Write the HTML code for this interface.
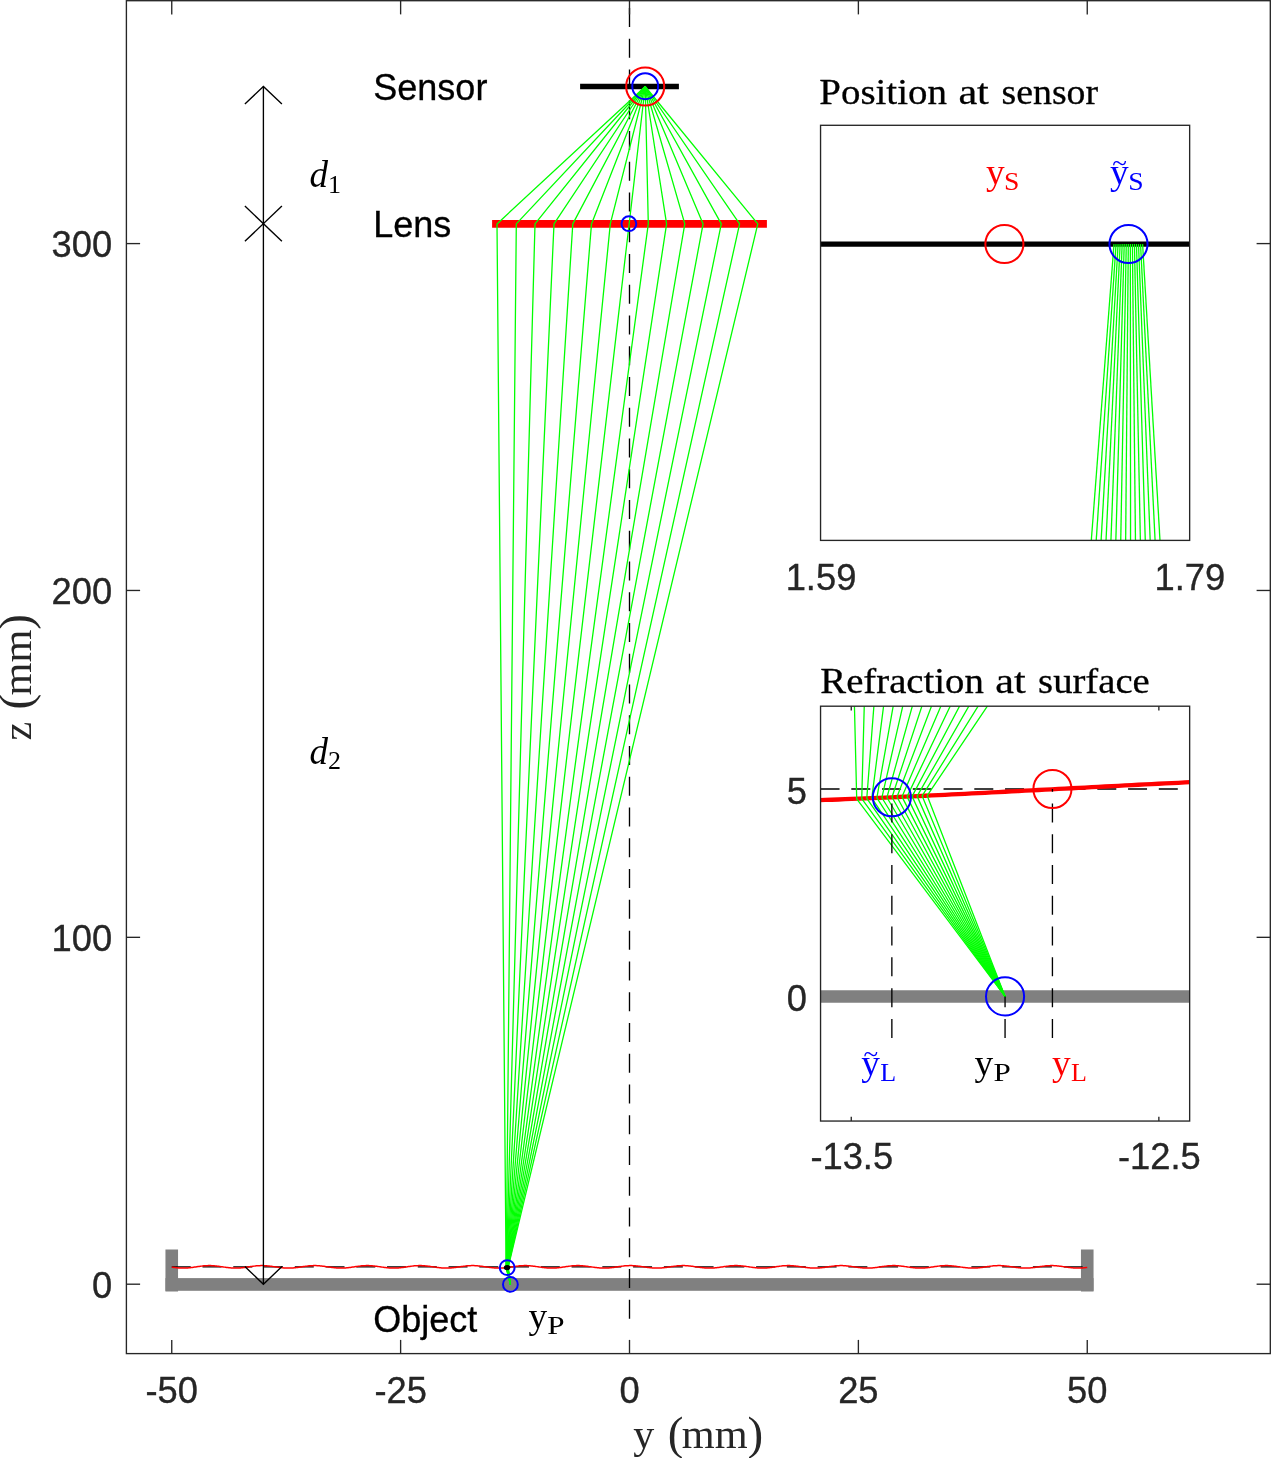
<!DOCTYPE html>
<html lang="en"><head><meta charset="utf-8"><title>Ray tracing through a refracting surface</title>
<style>html,body{margin:0;padding:0;background:#fff}svg{display:block}</style></head>
<body>
<svg width="1271" height="1458" viewBox="0 0 1271 1458">
<rect x="0" y="0" width="1271" height="1458" fill="#ffffff"/>
<defs>
<clipPath id="cm"><rect x="126.4" y="0.7" width="1143.9" height="1352.9"/></clipPath>
<clipPath id="c1"><rect x="820.55" y="125.3" width="369.1" height="415.1"/></clipPath>
<clipPath id="c2"><rect x="820.55" y="706.2" width="369.1" height="414.85"/></clipPath>
</defs>
<g clip-path="url(#cm)">
<rect x="165.45" y="1278.1" width="928.1" height="12.7" fill="#808080"/>
<rect x="165.45" y="1249.5" width="12.6" height="42" fill="#808080"/>
<rect x="1080.95" y="1249.5" width="12.6" height="42" fill="#808080"/>
<line x1="171.75" y1="1266.86" x2="1087.25" y2="1266.86" stroke="#000" stroke-width="1.35" stroke-dasharray="19 11.755"/>
<polyline points="171.75,1267.13 172.89,1267.3 174.04,1267.45 175.18,1267.6 176.33,1267.73 177.47,1267.84 178.62,1267.94 179.76,1268.01 180.91,1268.07 182.05,1268.1 183.19,1268.11 184.34,1268.09 185.48,1268.05 186.63,1267.99 187.77,1267.91 188.92,1267.81 190.06,1267.69 191.2,1267.56 192.35,1267.41 193.49,1267.25 194.64,1267.09 195.78,1266.92 196.93,1266.75 198.07,1266.58 199.22,1266.42 200.36,1266.26 201.5,1266.12 202.65,1265.99 203.79,1265.87 204.94,1265.78 206.08,1265.7 207.23,1265.65 208.37,1265.62 209.51,1265.61 210.66,1265.62 211.8,1265.66 212.95,1265.72 214.09,1265.8 215.24,1265.9 216.38,1266.02 217.53,1266.16 218.67,1266.3 219.81,1266.46 220.96,1266.63 222.1,1266.8 223.25,1266.97 224.39,1267.13 225.54,1267.3 226.68,1267.45 227.82,1267.6 228.97,1267.73 230.11,1267.84 231.26,1267.94 232.4,1268.01 233.55,1268.07 234.69,1268.1 235.84,1268.11 236.98,1268.09 238.12,1268.05 239.27,1267.99 240.41,1267.91 241.56,1267.81 242.7,1267.69 243.85,1267.56 244.99,1267.41 246.13,1267.25 247.28,1267.09 248.42,1266.92 249.57,1266.75 250.71,1266.58 251.86,1266.42 253,1266.26 254.15,1266.12 255.29,1265.99 256.43,1265.87 257.58,1265.78 258.72,1265.7 259.87,1265.65 261.01,1265.62 262.16,1265.61 263.3,1265.62 264.44,1265.66 265.59,1265.72 266.73,1265.8 267.88,1265.9 269.02,1266.02 270.17,1266.16 271.31,1266.3 272.46,1266.46 273.6,1266.63 274.74,1266.8 275.89,1266.97 277.03,1267.13 278.18,1267.3 279.32,1267.45 280.47,1267.6 281.61,1267.73 282.75,1267.84 283.9,1267.94 285.04,1268.01 286.19,1268.07 287.33,1268.1 288.48,1268.11 289.62,1268.09 290.77,1268.05 291.91,1267.99 293.05,1267.91 294.2,1267.81 295.34,1267.69 296.49,1267.56 297.63,1267.41 298.78,1267.25 299.92,1267.09 301.06,1266.92 302.21,1266.75 303.35,1266.58 304.5,1266.42 305.64,1266.26 306.79,1266.12 307.93,1265.99 309.08,1265.87 310.22,1265.78 311.36,1265.7 312.51,1265.65 313.65,1265.62 314.8,1265.61 315.94,1265.62 317.09,1265.66 318.23,1265.72 319.37,1265.8 320.52,1265.9 321.66,1266.02 322.81,1266.16 323.95,1266.3 325.1,1266.46 326.24,1266.63 327.39,1266.8 328.53,1266.97 329.67,1267.13 330.82,1267.3 331.96,1267.45 333.11,1267.6 334.25,1267.73 335.4,1267.84 336.54,1267.94 337.68,1268.01 338.83,1268.07 339.97,1268.1 341.12,1268.11 342.26,1268.09 343.41,1268.05 344.55,1267.99 345.69,1267.91 346.84,1267.81 347.98,1267.69 349.13,1267.56 350.27,1267.41 351.42,1267.25 352.56,1267.09 353.71,1266.92 354.85,1266.75 355.99,1266.58 357.14,1266.42 358.28,1266.26 359.43,1266.12 360.57,1265.99 361.72,1265.87 362.86,1265.78 364,1265.7 365.15,1265.65 366.29,1265.62 367.44,1265.61 368.58,1265.62 369.73,1265.66 370.87,1265.72 372.02,1265.8 373.16,1265.9 374.3,1266.02 375.45,1266.16 376.59,1266.3 377.74,1266.46 378.88,1266.63 380.03,1266.8 381.17,1266.97 382.32,1267.13 383.46,1267.3 384.6,1267.45 385.75,1267.6 386.89,1267.73 388.04,1267.84 389.18,1267.94 390.33,1268.01 391.47,1268.07 392.61,1268.1 393.76,1268.11 394.9,1268.09 396.05,1268.05 397.19,1267.99 398.34,1267.91 399.48,1267.81 400.62,1267.69 401.77,1267.56 402.91,1267.41 404.06,1267.25 405.2,1267.09 406.35,1266.92 407.49,1266.75 408.64,1266.58 409.78,1266.42 410.92,1266.26 412.07,1266.12 413.21,1265.99 414.36,1265.87 415.5,1265.78 416.65,1265.7 417.79,1265.65 418.94,1265.62 420.08,1265.61 421.22,1265.62 422.37,1265.66 423.51,1265.72 424.66,1265.8 425.8,1265.9 426.95,1266.02 428.09,1266.16 429.23,1266.3 430.38,1266.46 431.52,1266.63 432.67,1266.8 433.81,1266.97 434.96,1267.13 436.1,1267.3 437.25,1267.45 438.39,1267.6 439.53,1267.73 440.68,1267.84 441.82,1267.94 442.97,1268.01 444.11,1268.07 445.26,1268.1 446.4,1268.11 447.54,1268.09 448.69,1268.05 449.83,1267.99 450.98,1267.91 452.12,1267.81 453.27,1267.69 454.41,1267.56 455.56,1267.41 456.7,1267.25 457.84,1267.09 458.99,1266.92 460.13,1266.75 461.28,1266.58 462.42,1266.42 463.57,1266.26 464.71,1266.12 465.85,1265.99 467,1265.87 468.14,1265.78 469.29,1265.7 470.43,1265.65 471.58,1265.62 472.72,1265.61 473.87,1265.62 475.01,1265.66 476.15,1265.72 477.3,1265.8 478.44,1265.9 479.59,1266.02 480.73,1266.16 481.88,1266.3 483.02,1266.46 484.16,1266.63 485.31,1266.8 486.45,1266.97 487.6,1267.13 488.74,1267.3 489.89,1267.45 491.03,1267.6 492.18,1267.73 493.32,1267.84 494.46,1267.94 495.61,1268.01 496.75,1268.07 497.9,1268.1 499.04,1268.11 500.19,1268.09 501.33,1268.05 502.47,1267.99 503.62,1267.91 504.76,1267.81 505.91,1267.69 507.05,1267.56 508.2,1267.41 509.34,1267.25 510.49,1267.09 511.63,1266.92 512.77,1266.75 513.92,1266.58 515.06,1266.42 516.21,1266.26 517.35,1266.12 518.5,1265.99 519.64,1265.87 520.78,1265.78 521.93,1265.7 523.07,1265.65 524.22,1265.62 525.36,1265.61 526.51,1265.62 527.65,1265.66 528.79,1265.72 529.94,1265.8 531.08,1265.9 532.23,1266.02 533.37,1266.16 534.52,1266.3 535.66,1266.46 536.81,1266.63 537.95,1266.8 539.09,1266.97 540.24,1267.13 541.38,1267.3 542.53,1267.45 543.67,1267.6 544.82,1267.73 545.96,1267.84 547.11,1267.94 548.25,1268.01 549.39,1268.07 550.54,1268.1 551.68,1268.11 552.83,1268.09 553.97,1268.05 555.12,1267.99 556.26,1267.91 557.4,1267.81 558.55,1267.69 559.69,1267.56 560.84,1267.41 561.98,1267.25 563.13,1267.09 564.27,1266.92 565.41,1266.75 566.56,1266.58 567.7,1266.42 568.85,1266.26 569.99,1266.12 571.14,1265.99 572.28,1265.87 573.43,1265.78 574.57,1265.7 575.71,1265.65 576.86,1265.62 578,1265.61 579.15,1265.62 580.29,1265.66 581.44,1265.72 582.58,1265.8 583.73,1265.9 584.87,1266.02 586.01,1266.16 587.16,1266.3 588.3,1266.46 589.45,1266.63 590.59,1266.8 591.74,1266.97 592.88,1267.13 594.02,1267.3 595.17,1267.45 596.31,1267.6 597.46,1267.73 598.6,1267.84 599.75,1267.94 600.89,1268.01 602.03,1268.07 603.18,1268.1 604.32,1268.11 605.47,1268.09 606.61,1268.05 607.76,1267.99 608.9,1267.91 610.05,1267.81 611.19,1267.69 612.33,1267.56 613.48,1267.41 614.62,1267.25 615.77,1267.09 616.91,1266.92 618.06,1266.75 619.2,1266.58 620.35,1266.42 621.49,1266.26 622.63,1266.12 623.78,1265.99 624.92,1265.87 626.07,1265.78 627.21,1265.7 628.36,1265.65 629.5,1265.62 630.64,1265.61 631.79,1265.62 632.93,1265.66 634.08,1265.72 635.22,1265.8 636.37,1265.9 637.51,1266.02 638.65,1266.16 639.8,1266.3 640.94,1266.46 642.09,1266.63 643.23,1266.8 644.38,1266.97 645.52,1267.13 646.67,1267.3 647.81,1267.45 648.95,1267.6 650.1,1267.73 651.24,1267.84 652.39,1267.94 653.53,1268.01 654.68,1268.07 655.82,1268.1 656.97,1268.11 658.11,1268.09 659.25,1268.05 660.4,1267.99 661.54,1267.91 662.69,1267.81 663.83,1267.69 664.98,1267.56 666.12,1267.41 667.26,1267.25 668.41,1267.09 669.55,1266.92 670.7,1266.75 671.84,1266.58 672.99,1266.42 674.13,1266.26 675.27,1266.12 676.42,1265.99 677.56,1265.87 678.71,1265.78 679.85,1265.7 681,1265.65 682.14,1265.62 683.29,1265.61 684.43,1265.62 685.57,1265.66 686.72,1265.72 687.86,1265.8 689.01,1265.9 690.15,1266.02 691.3,1266.16 692.44,1266.3 693.59,1266.46 694.73,1266.63 695.87,1266.8 697.02,1266.97 698.16,1267.13 699.31,1267.3 700.45,1267.45 701.6,1267.6 702.74,1267.73 703.88,1267.84 705.03,1267.94 706.17,1268.01 707.32,1268.07 708.46,1268.1 709.61,1268.11 710.75,1268.09 711.89,1268.05 713.04,1267.99 714.18,1267.91 715.33,1267.81 716.47,1267.69 717.62,1267.56 718.76,1267.41 719.91,1267.25 721.05,1267.09 722.19,1266.92 723.34,1266.75 724.48,1266.58 725.63,1266.42 726.77,1266.26 727.92,1266.12 729.06,1265.99 730.21,1265.87 731.35,1265.78 732.49,1265.7 733.64,1265.65 734.78,1265.62 735.93,1265.61 737.07,1265.62 738.22,1265.66 739.36,1265.72 740.5,1265.8 741.65,1265.9 742.79,1266.02 743.94,1266.16 745.08,1266.3 746.23,1266.46 747.37,1266.63 748.51,1266.8 749.66,1266.97 750.8,1267.13 751.95,1267.3 753.09,1267.45 754.24,1267.6 755.38,1267.73 756.53,1267.84 757.67,1267.94 758.81,1268.01 759.96,1268.07 761.1,1268.1 762.25,1268.11 763.39,1268.09 764.54,1268.05 765.68,1267.99 766.83,1267.91 767.97,1267.81 769.11,1267.69 770.26,1267.56 771.4,1267.41 772.55,1267.25 773.69,1267.09 774.84,1266.92 775.98,1266.75 777.12,1266.58 778.27,1266.42 779.41,1266.26 780.56,1266.12 781.7,1265.99 782.85,1265.87 783.99,1265.78 785.13,1265.7 786.28,1265.65 787.42,1265.62 788.57,1265.61 789.71,1265.62 790.86,1265.66 792,1265.72 793.15,1265.8 794.29,1265.9 795.43,1266.02 796.58,1266.16 797.72,1266.3 798.87,1266.46 800.01,1266.63 801.16,1266.8 802.3,1266.97 803.44,1267.13 804.59,1267.3 805.73,1267.45 806.88,1267.6 808.02,1267.73 809.17,1267.84 810.31,1267.94 811.46,1268.01 812.6,1268.07 813.74,1268.1 814.89,1268.11 816.03,1268.09 817.18,1268.05 818.32,1267.99 819.47,1267.91 820.61,1267.81 821.75,1267.69 822.9,1267.56 824.04,1267.41 825.19,1267.25 826.33,1267.09 827.48,1266.92 828.62,1266.75 829.77,1266.58 830.91,1266.42 832.05,1266.26 833.2,1266.12 834.34,1265.99 835.49,1265.87 836.63,1265.78 837.78,1265.7 838.92,1265.65 840.07,1265.62 841.21,1265.61 842.35,1265.62 843.5,1265.66 844.64,1265.72 845.79,1265.8 846.93,1265.9 848.08,1266.02 849.22,1266.16 850.36,1266.3 851.51,1266.46 852.65,1266.63 853.8,1266.8 854.94,1266.97 856.09,1267.13 857.23,1267.3 858.38,1267.45 859.52,1267.6 860.66,1267.73 861.81,1267.84 862.95,1267.94 864.1,1268.01 865.24,1268.07 866.39,1268.1 867.53,1268.11 868.67,1268.09 869.82,1268.05 870.96,1267.99 872.11,1267.91 873.25,1267.81 874.4,1267.69 875.54,1267.56 876.68,1267.41 877.83,1267.25 878.97,1267.09 880.12,1266.92 881.26,1266.75 882.41,1266.58 883.55,1266.42 884.7,1266.26 885.84,1266.12 886.98,1265.99 888.13,1265.87 889.27,1265.78 890.42,1265.7 891.56,1265.65 892.71,1265.62 893.85,1265.61 895,1265.62 896.14,1265.66 897.28,1265.72 898.43,1265.8 899.57,1265.9 900.72,1266.02 901.86,1266.16 903.01,1266.3 904.15,1266.46 905.29,1266.63 906.44,1266.8 907.58,1266.97 908.73,1267.13 909.87,1267.3 911.02,1267.45 912.16,1267.6 913.31,1267.73 914.45,1267.84 915.59,1267.94 916.74,1268.01 917.88,1268.07 919.03,1268.1 920.17,1268.11 921.32,1268.09 922.46,1268.05 923.6,1267.99 924.75,1267.91 925.89,1267.81 927.04,1267.69 928.18,1267.56 929.33,1267.41 930.47,1267.25 931.62,1267.09 932.76,1266.92 933.9,1266.75 935.05,1266.58 936.19,1266.42 937.34,1266.26 938.48,1266.12 939.63,1265.99 940.77,1265.87 941.91,1265.78 943.06,1265.7 944.2,1265.65 945.35,1265.62 946.49,1265.61 947.64,1265.62 948.78,1265.66 949.92,1265.72 951.07,1265.8 952.21,1265.9 953.36,1266.02 954.5,1266.16 955.65,1266.3 956.79,1266.46 957.94,1266.63 959.08,1266.8 960.22,1266.97 961.37,1267.13 962.51,1267.3 963.66,1267.45 964.8,1267.6 965.95,1267.73 967.09,1267.84 968.23,1267.94 969.38,1268.01 970.52,1268.07 971.67,1268.1 972.81,1268.11 973.96,1268.09 975.1,1268.05 976.25,1267.99 977.39,1267.91 978.53,1267.81 979.68,1267.69 980.82,1267.56 981.97,1267.41 983.11,1267.25 984.26,1267.09 985.4,1266.92 986.54,1266.75 987.69,1266.58 988.83,1266.42 989.98,1266.26 991.12,1266.12 992.27,1265.99 993.41,1265.87 994.56,1265.78 995.7,1265.7 996.84,1265.65 997.99,1265.62 999.13,1265.61 1000.28,1265.62 1001.42,1265.66 1002.57,1265.72 1003.71,1265.8 1004.86,1265.9 1006,1266.02 1007.14,1266.16 1008.29,1266.3 1009.43,1266.46 1010.58,1266.63 1011.72,1266.8 1012.87,1266.97 1014.01,1267.13 1015.15,1267.3 1016.3,1267.45 1017.44,1267.6 1018.59,1267.73 1019.73,1267.84 1020.88,1267.94 1022.02,1268.01 1023.16,1268.07 1024.31,1268.1 1025.45,1268.11 1026.6,1268.09 1027.74,1268.05 1028.89,1267.99 1030.03,1267.91 1031.18,1267.81 1032.32,1267.69 1033.46,1267.56 1034.61,1267.41 1035.75,1267.25 1036.9,1267.09 1038.04,1266.92 1039.19,1266.75 1040.33,1266.58 1041.47,1266.42 1042.62,1266.26 1043.76,1266.12 1044.91,1265.99 1046.05,1265.87 1047.2,1265.78 1048.34,1265.7 1049.49,1265.65 1050.63,1265.62 1051.77,1265.61 1052.92,1265.62 1054.06,1265.66 1055.21,1265.72 1056.35,1265.8 1057.5,1265.9 1058.64,1266.02 1059.78,1266.16 1060.93,1266.3 1062.07,1266.46 1063.22,1266.63 1064.36,1266.8 1065.51,1266.97 1066.65,1267.13 1067.8,1267.3 1068.94,1267.45 1070.08,1267.6 1071.23,1267.73 1072.37,1267.84 1073.52,1267.94 1074.66,1268.01 1075.81,1268.07 1076.95,1268.1 1078.1,1268.11 1079.24,1268.09 1080.38,1268.05 1081.53,1267.99 1082.67,1267.91 1083.82,1267.81 1084.96,1267.69 1086.11,1267.56 1087.25,1267.41" fill="none" stroke="#ff0000" stroke-width="1.5"/>
<line x1="629.5" y1="1318.69" x2="629.5" y2="-29.3" stroke="#000" stroke-width="1.35" stroke-dasharray="19 11.755"/>
<line x1="580.1" y1="86.5" x2="678.9" y2="86.5" stroke="#000" stroke-width="5.3"/>
<line x1="492.1" y1="223.9" x2="766.9" y2="223.9" stroke="#ff0000" stroke-width="7.8"/>
<polyline points="645.2,86.5 497,223.9 506.07,1267.67 510.5,1284.3" fill="none" stroke="#00ff00" stroke-width="1.3" stroke-linejoin="round"/>
<polyline points="645.2,86.5 516.3,223.9 506.22,1267.66 510.5,1284.3" fill="none" stroke="#00ff00" stroke-width="1.3" stroke-linejoin="round"/>
<polyline points="645.2,86.5 535,223.9 506.37,1267.64 510.5,1284.3" fill="none" stroke="#00ff00" stroke-width="1.3" stroke-linejoin="round"/>
<polyline points="645.2,86.5 554,223.9 506.52,1267.62 510.5,1284.3" fill="none" stroke="#00ff00" stroke-width="1.3" stroke-linejoin="round"/>
<polyline points="645.2,86.5 572.8,223.9 506.67,1267.6 510.5,1284.3" fill="none" stroke="#00ff00" stroke-width="1.3" stroke-linejoin="round"/>
<polyline points="645.2,86.5 591.5,223.9 506.82,1267.59 510.5,1284.3" fill="none" stroke="#00ff00" stroke-width="1.3" stroke-linejoin="round"/>
<polyline points="645.2,86.5 610.3,223.9 506.97,1267.57 510.5,1284.3" fill="none" stroke="#00ff00" stroke-width="1.3" stroke-linejoin="round"/>
<polyline points="645.2,86.5 629.15,223.9 507.12,1267.55 510.5,1284.3" fill="none" stroke="#00ff00" stroke-width="1.3" stroke-linejoin="round"/>
<polyline points="645.2,86.5 648.3,223.9 507.27,1267.53 510.5,1284.3" fill="none" stroke="#00ff00" stroke-width="1.3" stroke-linejoin="round"/>
<polyline points="645.2,86.5 666.6,223.9 507.42,1267.51 510.5,1284.3" fill="none" stroke="#00ff00" stroke-width="1.3" stroke-linejoin="round"/>
<polyline points="645.2,86.5 684.8,223.9 507.57,1267.49 510.5,1284.3" fill="none" stroke="#00ff00" stroke-width="1.3" stroke-linejoin="round"/>
<polyline points="645.2,86.5 703.1,223.9 507.72,1267.47 510.5,1284.3" fill="none" stroke="#00ff00" stroke-width="1.3" stroke-linejoin="round"/>
<polyline points="645.2,86.5 721.3,223.9 507.87,1267.45 510.5,1284.3" fill="none" stroke="#00ff00" stroke-width="1.3" stroke-linejoin="round"/>
<polyline points="645.2,86.5 739.6,223.9 508.02,1267.43 510.5,1284.3" fill="none" stroke="#00ff00" stroke-width="1.3" stroke-linejoin="round"/>
<polyline points="645.2,86.5 757.8,223.9 508.17,1267.41 510.5,1284.3" fill="none" stroke="#00ff00" stroke-width="1.3" stroke-linejoin="round"/>
<circle cx="645.2" cy="86.5" r="19.05" fill="none" stroke="#ff0000" stroke-width="2.0"/>
<circle cx="645.2" cy="86.2" r="12.95" fill="none" stroke="#0000ff" stroke-width="2.0"/>
<circle cx="628.9" cy="223.7" r="7.4" fill="none" stroke="#0000ff" stroke-width="2.0"/>
<ellipse cx="507.1" cy="1267.6" rx="3.3" ry="2.7" fill="#000"/>
<circle cx="507.2" cy="1267.6" r="7.4" fill="none" stroke="#0000ff" stroke-width="2.0"/>
<circle cx="510.4" cy="1284.4" r="7.4" fill="none" stroke="#0000ff" stroke-width="2.0"/>
<g stroke="#000" stroke-width="1.35" fill="none">
<line x1="263.4" y1="86.4" x2="263.4" y2="1284.2"/>
<polyline points="244.9,104.1 263.4,86.4 281.9,104.1"/>
<polyline points="244.9,1266.6 263.4,1284.2 281.9,1266.6"/>
<line x1="244.9" y1="206.1" x2="281.9" y2="241.3"/>
<line x1="244.9" y1="241.3" x2="281.9" y2="206.1"/>
</g>
</g>
<g stroke="#262626" stroke-width="1.35" fill="none">
<rect x="126.4" y="0.7" width="1143.9" height="1352.9"/>
<line x1="171.75" y1="1353.6" x2="171.75" y2="1339.9"/>
<line x1="171.75" y1="0.7" x2="171.75" y2="14.4"/>
<line x1="400.62" y1="1353.6" x2="400.62" y2="1339.9"/>
<line x1="400.62" y1="0.7" x2="400.62" y2="14.4"/>
<line x1="629.5" y1="1353.6" x2="629.5" y2="1339.9"/>
<line x1="629.5" y1="0.7" x2="629.5" y2="14.4"/>
<line x1="858.38" y1="1353.6" x2="858.38" y2="1339.9"/>
<line x1="858.38" y1="0.7" x2="858.38" y2="14.4"/>
<line x1="1087.25" y1="1353.6" x2="1087.25" y2="1339.9"/>
<line x1="1087.25" y1="0.7" x2="1087.25" y2="14.4"/>
<line x1="126.4" y1="1284.2" x2="140.1" y2="1284.2"/>
<line x1="1270.3" y1="1284.2" x2="1256.6" y2="1284.2"/>
<line x1="126.4" y1="937.33" x2="140.1" y2="937.33"/>
<line x1="1270.3" y1="937.33" x2="1256.6" y2="937.33"/>
<line x1="126.4" y1="590.46" x2="140.1" y2="590.46"/>
<line x1="1270.3" y1="590.46" x2="1256.6" y2="590.46"/>
<line x1="126.4" y1="243.59" x2="140.1" y2="243.59"/>
<line x1="1270.3" y1="243.59" x2="1256.6" y2="243.59"/>
</g>
<g font-family="'Liberation Sans', Arial, Helvetica, sans-serif" font-size="36.3" fill="#262626" stroke="#262626" stroke-width="0.35">
<text x="171.75" y="1402.8" text-anchor="middle">-50</text>
<text x="400.62" y="1402.8" text-anchor="middle">-25</text>
<text x="629.5" y="1402.8" text-anchor="middle">0</text>
<text x="858.38" y="1402.8" text-anchor="middle">25</text>
<text x="1087.25" y="1402.8" text-anchor="middle">50</text>
<text x="112.1" y="1298.1" text-anchor="end">0</text>
<text x="112.1" y="951.23" text-anchor="end">100</text>
<text x="112.1" y="604.36" text-anchor="end">200</text>
<text x="112.1" y="257.49" text-anchor="end">300</text>
</g>
<g font-family="'Liberation Serif', 'Times New Roman', Times, serif" fill="#262626" transform="translate(633.2,1448.2)"><text x="0" y="0" font-size="40.5" textLength="21" lengthAdjust="spacingAndGlyphs">y</text><text x="34.6" y="0.6" font-size="47">(</text><text x="48.6" y="0" font-size="40.5" textLength="65.8" lengthAdjust="spacingAndGlyphs">mm</text><text x="114.2" y="0.6" font-size="47">)</text></g>
<g font-family="'Liberation Serif', 'Times New Roman', Times, serif" fill="#262626" transform="translate(30.7,740.6) rotate(-90)"><text x="0" y="0" font-size="40.5" textLength="18.6" lengthAdjust="spacingAndGlyphs">z</text><text x="31.1" y="0.6" font-size="47">(</text><text x="45.2" y="0" font-size="40.5" textLength="65.8" lengthAdjust="spacingAndGlyphs">mm</text><text x="110.8" y="0.6" font-size="47">)</text></g>
<g font-family="'Liberation Sans', Arial, Helvetica, sans-serif" font-size="37" fill="#000" stroke="#000" stroke-width="0.3">
<text x="373.2" y="100" textLength="114.2" lengthAdjust="spacingAndGlyphs">Sensor</text>
<text x="373.2" y="237.4" textLength="78.1" lengthAdjust="spacingAndGlyphs">Lens</text>
<text x="373.2" y="1332.1" textLength="104.1" lengthAdjust="spacingAndGlyphs">Object</text>
</g>
<g font-family="'Liberation Serif', 'Times New Roman', Times, serif" fill="#000"><text x="309.6" y="187.2" font-size="37" font-style="italic">d</text><text x="328.1" y="192.6" font-size="26">1</text></g>
<g font-family="'Liberation Serif', 'Times New Roman', Times, serif" fill="#000"><text x="309.6" y="763.6" font-size="37" font-style="italic">d</text><text x="328.1" y="769" font-size="26">2</text></g>
<g font-family="'Liberation Serif', 'Times New Roman', Times, serif" fill="#000"><text x="528.4" y="1328.3" font-size="35.5" textLength="18.7" lengthAdjust="spacingAndGlyphs">y</text><text x="547.3" y="1333.9" font-size="26" textLength="17.3" lengthAdjust="spacingAndGlyphs">P</text></g>
<rect x="820.55" y="125.3" width="369.1" height="415.1" fill="#fff" stroke="none"/>
<g clip-path="url(#c1)">
<line x1="820.55" y1="244.2" x2="1189.65" y2="244.2" stroke="#000" stroke-width="5.3"/>
<line x1="1114" y1="244.1" x2="1091.3" y2="540.4" stroke="#00ff00" stroke-width="1.3"/>
<line x1="1116.04" y1="244.1" x2="1096.21" y2="540.4" stroke="#00ff00" stroke-width="1.3"/>
<line x1="1118.09" y1="244.1" x2="1101.11" y2="540.4" stroke="#00ff00" stroke-width="1.3"/>
<line x1="1120.13" y1="244.1" x2="1106.02" y2="540.4" stroke="#00ff00" stroke-width="1.3"/>
<line x1="1122.17" y1="244.1" x2="1110.93" y2="540.4" stroke="#00ff00" stroke-width="1.3"/>
<line x1="1124.21" y1="244.1" x2="1115.84" y2="540.4" stroke="#00ff00" stroke-width="1.3"/>
<line x1="1126.26" y1="244.1" x2="1120.74" y2="540.4" stroke="#00ff00" stroke-width="1.3"/>
<line x1="1128.3" y1="244.1" x2="1125.65" y2="540.4" stroke="#00ff00" stroke-width="1.3"/>
<line x1="1130.34" y1="244.1" x2="1130.56" y2="540.4" stroke="#00ff00" stroke-width="1.3"/>
<line x1="1132.39" y1="244.1" x2="1135.46" y2="540.4" stroke="#00ff00" stroke-width="1.3"/>
<line x1="1134.43" y1="244.1" x2="1140.37" y2="540.4" stroke="#00ff00" stroke-width="1.3"/>
<line x1="1136.47" y1="244.1" x2="1145.28" y2="540.4" stroke="#00ff00" stroke-width="1.3"/>
<line x1="1138.51" y1="244.1" x2="1150.19" y2="540.4" stroke="#00ff00" stroke-width="1.3"/>
<line x1="1140.56" y1="244.1" x2="1155.09" y2="540.4" stroke="#00ff00" stroke-width="1.3"/>
<line x1="1142.6" y1="244.1" x2="1160" y2="540.4" stroke="#00ff00" stroke-width="1.3"/>
<circle cx="1004.4" cy="244" r="19.05" fill="none" stroke="#ff0000" stroke-width="2.0"/>
<circle cx="1128.5" cy="244" r="19.05" fill="none" stroke="#0000ff" stroke-width="2.0"/>
</g>
<rect x="820.55" y="125.3" width="369.1" height="415.1" fill="none" stroke="#262626" stroke-width="1.35"/>
<g font-family="'Liberation Serif', 'Times New Roman', Times, serif" fill="#ff0000"><text x="986" y="184.3" font-size="35.5" textLength="18.7" lengthAdjust="spacingAndGlyphs">y</text><text x="1004.1" y="189.9" font-size="26" textLength="15.4" lengthAdjust="spacingAndGlyphs">S</text></g>
<g font-family="'Liberation Serif', 'Times New Roman', Times, serif" fill="#0000ff"><text x="1110.1" y="184.3" font-size="35.5" textLength="18.7" lengthAdjust="spacingAndGlyphs">y</text><text x="1128.2" y="189.9" font-size="26" textLength="15.4" lengthAdjust="spacingAndGlyphs">S</text><text x="1119.5" y="172.1" font-size="27" text-anchor="middle">~</text></g>
<g font-family="'Liberation Serif', 'Times New Roman', Times, serif" font-size="36" fill="#000" stroke="#000" stroke-width="0.3"><text x="819.3" y="104" textLength="127.6" lengthAdjust="spacingAndGlyphs">Position</text><text x="958.4" y="104" textLength="30.4" lengthAdjust="spacingAndGlyphs">at</text><text x="1001.6" y="104" textLength="96.5" lengthAdjust="spacingAndGlyphs">sensor</text></g>
<g font-family="'Liberation Sans', Arial, Helvetica, sans-serif" font-size="36.3" fill="#262626" stroke="#262626" stroke-width="0.35">
<text x="821" y="589.7" text-anchor="middle">1.59</text>
<text x="1189.8" y="589.7" text-anchor="middle">1.79</text>
</g>
<rect x="820.55" y="706.2" width="369.1" height="414.85" fill="#fff" stroke="none"/>
<g clip-path="url(#c2)">
<line x1="820.55" y1="996.4" x2="1189.65" y2="996.4" stroke="#808080" stroke-width="12.5"/>
<line x1="820.55" y1="789" x2="1229.65" y2="789" stroke="#000" stroke-width="1.35" stroke-dasharray="19 11.75"/>
<polyline points="805.12,800.66 811.78,800.44 818.45,800.21 825.11,799.97 831.78,799.73 838.44,799.48 845.11,799.22 851.77,798.96 858.44,798.7 865.1,798.42 871.77,798.15 878.43,797.87 885.1,797.58 891.76,797.29 898.43,796.99 905.09,796.69 911.75,796.38 918.42,796.07 925.08,795.76 931.75,795.44 938.41,795.12 945.08,794.8 951.74,794.47 958.41,794.14 965.07,793.81 971.74,793.47 978.4,793.13 985.07,792.79 991.73,792.45 998.4,792.1 1005.06,791.76 1011.72,791.41 1018.39,791.06 1025.05,790.71 1031.72,790.36 1038.38,790.01 1045.05,789.65 1051.71,789.3 1058.38,788.95 1065.04,788.59 1071.71,788.24 1078.37,787.89 1085.04,787.53 1091.7,787.18 1098.37,786.83 1105.03,786.48 1111.69,786.14 1118.36,785.79 1125.02,785.44 1131.69,785.1 1138.35,784.76 1145.02,784.42 1151.68,784.09 1158.35,783.76 1165.01,783.43 1171.68,783.1 1178.34,782.78 1185.01,782.46 1191.67,782.14 1198.34,781.83 1205,781.52" fill="none" stroke="#ff0000" stroke-width="4.3"/>
<polyline points="854.14,693.6 856.7,798.77 1005.06,996.4" fill="none" stroke="#00ff00" stroke-width="1.3" stroke-linejoin="round"/>
<polyline points="864.59,693.6 861.74,798.56 1005.06,996.4" fill="none" stroke="#00ff00" stroke-width="1.3" stroke-linejoin="round"/>
<polyline points="874.85,693.6 866.78,798.35 1005.06,996.4" fill="none" stroke="#00ff00" stroke-width="1.3" stroke-linejoin="round"/>
<polyline points="885.18,693.6 871.81,798.15 1005.06,996.4" fill="none" stroke="#00ff00" stroke-width="1.3" stroke-linejoin="round"/>
<polyline points="895.42,693.6 876.85,797.93 1005.06,996.4" fill="none" stroke="#00ff00" stroke-width="1.3" stroke-linejoin="round"/>
<polyline points="905.62,693.6 881.88,797.72 1005.06,996.4" fill="none" stroke="#00ff00" stroke-width="1.3" stroke-linejoin="round"/>
<polyline points="915.82,693.6 886.92,797.5 1005.06,996.4" fill="none" stroke="#00ff00" stroke-width="1.3" stroke-linejoin="round"/>
<polyline points="926.02,693.6 891.96,797.28 1005.06,996.4" fill="none" stroke="#00ff00" stroke-width="1.3" stroke-linejoin="round"/>
<polyline points="936.27,693.6 896.99,797.05 1005.06,996.4" fill="none" stroke="#00ff00" stroke-width="1.3" stroke-linejoin="round"/>
<polyline points="946.27,693.6 902.03,796.83 1005.06,996.4" fill="none" stroke="#00ff00" stroke-width="1.3" stroke-linejoin="round"/>
<polyline points="956.21,693.6 907.06,796.6 1005.06,996.4" fill="none" stroke="#00ff00" stroke-width="1.3" stroke-linejoin="round"/>
<polyline points="966.16,693.6 912.1,796.37 1005.06,996.4" fill="none" stroke="#00ff00" stroke-width="1.3" stroke-linejoin="round"/>
<polyline points="976.06,693.6 917.13,796.13 1005.06,996.4" fill="none" stroke="#00ff00" stroke-width="1.3" stroke-linejoin="round"/>
<polyline points="985.96,693.6 922.17,795.9 1005.06,996.4" fill="none" stroke="#00ff00" stroke-width="1.3" stroke-linejoin="round"/>
<polyline points="995.81,693.6 927.21,795.66 1005.06,996.4" fill="none" stroke="#00ff00" stroke-width="1.3" stroke-linejoin="round"/>
<line x1="891.86" y1="1037.88" x2="891.86" y2="797.3" stroke="#000" stroke-width="1.35" stroke-dasharray="19 11.755"/>
<line x1="1005.06" y1="1037.88" x2="1005.06" y2="996.4" stroke="#000" stroke-width="1.35" stroke-dasharray="19 11.755"/>
<line x1="1052.43" y1="1037.88" x2="1052.43" y2="789" stroke="#000" stroke-width="1.35" stroke-dasharray="19 11.755"/>
<circle cx="891.86" cy="797.28" r="19.05" fill="none" stroke="#0000ff" stroke-width="2.0"/>
<circle cx="1052.43" cy="789" r="19.05" fill="none" stroke="#ff0000" stroke-width="2.0"/>
<circle cx="1005.06" cy="996.4" r="19.05" fill="none" stroke="#0000ff" stroke-width="2.0"/>
</g>
<g stroke="#262626" stroke-width="1.35" fill="none">
<rect x="820.55" y="706.2" width="369.1" height="414.85"/>
<line x1="851.26" y1="706.2" x2="851.26" y2="710.6"/>
<line x1="851.26" y1="1121.05" x2="851.26" y2="1116.65"/>
<line x1="1158.86" y1="706.2" x2="1158.86" y2="710.6"/>
<line x1="1158.86" y1="1121.05" x2="1158.86" y2="1116.65"/>
</g>
<g font-family="'Liberation Serif', 'Times New Roman', Times, serif" font-size="36" fill="#000" stroke="#000" stroke-width="0.3"><text x="820.3" y="693.2" textLength="163.5" lengthAdjust="spacingAndGlyphs">Refraction</text><text x="995.2" y="693.2" textLength="30.4" lengthAdjust="spacingAndGlyphs">at</text><text x="1038.1" y="693.2" textLength="111.6" lengthAdjust="spacingAndGlyphs">surface</text></g>
<g font-family="'Liberation Sans', Arial, Helvetica, sans-serif" font-size="36.3" fill="#262626" stroke="#262626" stroke-width="0.35">
<text x="807" y="803.9" text-anchor="end">5</text>
<text x="807" y="1011.2" text-anchor="end">0</text>
<text x="851.76" y="1169.2" text-anchor="middle">-13.5</text>
<text x="1159.36" y="1169.2" text-anchor="middle">-12.5</text>
</g>
<g font-family="'Liberation Serif', 'Times New Roman', Times, serif" fill="#0000ff"><text x="861.3" y="1075.3" font-size="35.5" textLength="18.7" lengthAdjust="spacingAndGlyphs">y</text><text x="880.2" y="1080.9" font-size="26" textLength="15.9" lengthAdjust="spacingAndGlyphs">L</text><text x="870.7" y="1063.1" font-size="27" text-anchor="middle">~</text></g>
<g font-family="'Liberation Serif', 'Times New Roman', Times, serif" fill="#000"><text x="974.5" y="1075.3" font-size="35.5" textLength="18.7" lengthAdjust="spacingAndGlyphs">y</text><text x="993.4" y="1080.9" font-size="26" textLength="17.3" lengthAdjust="spacingAndGlyphs">P</text></g>
<g font-family="'Liberation Serif', 'Times New Roman', Times, serif" fill="#ff0000"><text x="1052.1" y="1075.3" font-size="35.5" textLength="18.7" lengthAdjust="spacingAndGlyphs">y</text><text x="1071" y="1080.9" font-size="26" textLength="15.9" lengthAdjust="spacingAndGlyphs">L</text></g>
</svg>
</body></html>
